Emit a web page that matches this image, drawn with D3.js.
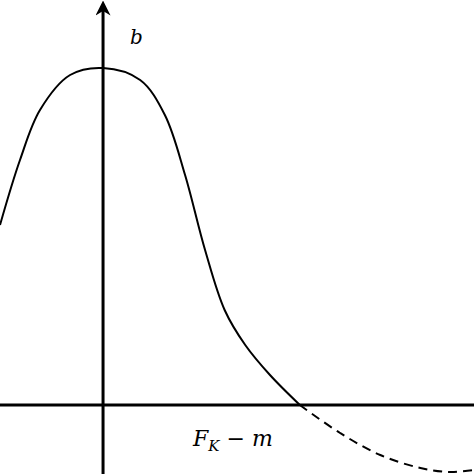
<!DOCTYPE html>
<html>
<head>
<meta charset="utf-8">
<script src="https://cdn.jsdelivr.net/npm/d3@7"></script>
<style>body{margin:0;background:#fff;}</style>
</head>
<body>
<script>
// curve data (data units, origin at the axes crossing)
const solidX = [-1, -0.806, -0.612, -0.32, 0, 0.36, 0.6, 0.796, 0.99, 1.18, 1.38, 1.62, 1.91];
const solidY = [1.8, 2.45, 2.95, 3.3, 3.37, 3.25, 2.9, 2.3, 1.55, 0.95, 0.6, 0.3, 0];
const dashX = [1.91, 2.3, 2.69, 3.08, 3.37, 3.6];
const dashY = [0, -0.28, -0.5, -0.63, -0.67, -0.65];

const W = 474, H = 474;
const x = d3.scaleLinear().domain([-1, 3.6]).range([0, W]);
const y = d3.scaleLinear().domain([-0.69, 4.05]).range([H, 0]);

const svg = d3.select("body").append("svg").attr("width", W).attr("height", H);

svg.append("defs").append("marker")
  .attr("id", "arr").attr("viewBox", "0 0 10 10")
  .attr("refX", 5).attr("refY", 5)
  .attr("markerWidth", 5).attr("markerHeight", 5)
  .attr("orient", "auto")
  .append("path").attr("d", "M0,0 L10,5 L0,10 L3,5 z").attr("fill", "#000");

// axes
svg.append("line").attr("x1", 0).attr("x2", W).attr("y1", y(0)).attr("y2", y(0))
  .attr("stroke", "#000").attr("stroke-width", 3);
svg.append("line").attr("x1", x(0)).attr("x2", x(0)).attr("y1", H).attr("y2", 8)
  .attr("stroke", "#000").attr("stroke-width", 3).attr("marker-end", "url(#arr)");

const line = d3.line().x(d => x(d[0])).y(d => y(d[1])).curve(d3.curveCatmullRom);

svg.append("path").datum(d3.zip(solidX, solidY)).attr("d", line)
  .attr("fill", "none").attr("stroke", "#000").attr("stroke-width", 2);
svg.append("path").datum(d3.zip(dashX, dashY)).attr("d", line)
  .attr("fill", "none").attr("stroke", "#000").attr("stroke-width", 2)
  .attr("stroke-dasharray", "9,6");

// labels
svg.append("text").attr("x", 130).attr("y", 44)
  .attr("font-family", "DejaVu Serif").attr("font-style", "italic").attr("font-size", 20).text("b");
const t = svg.append("text").attr("x", 193).attr("y", 446)
  .attr("font-family", "DejaVu Serif").attr("font-size", 22);
t.append("tspan").attr("font-style", "italic").text("F");
t.append("tspan").attr("font-style", "italic").attr("font-size", 15).attr("dy", 5).text("K");
t.append("tspan").attr("dy", -5).text(" − ");
t.append("tspan").attr("font-style", "italic").text("m");
</script>
</body>
</html>
